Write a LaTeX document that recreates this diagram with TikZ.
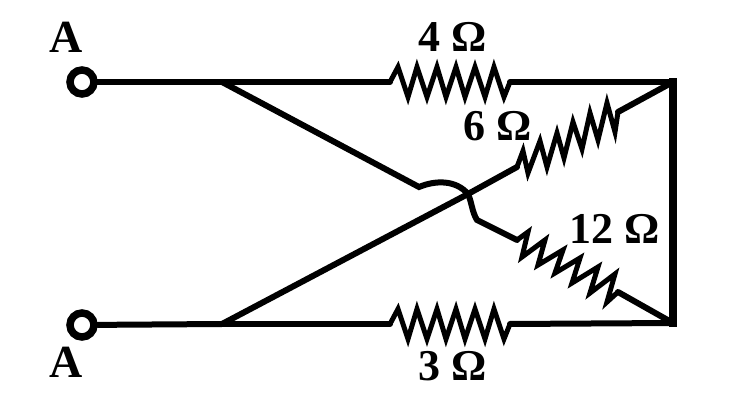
\documentclass[tikz,border=0pt]{standalone}
\usepackage{fontspec}
\setmainfont{Liberation Serif}
\tikzset{
  x=1pt,y=-1pt,
  wire/.style={draw=black,line width=6pt,line join=miter,line cap=round},
  res/.style={draw=black,line width=5pt,line join=miter,miter limit=10},
  rail/.style={draw=black,line width=7.5pt,line cap=rect},
  term/.style={circle,draw=black,fill=white,line width=7.5pt,minimum size=24pt,inner sep=0pt},
  lab/.style={font=\fontsize{46}{46}\selectfont\bfseries,text=black,inner sep=0pt},
  vlab/.style={font=\fontsize{44}{44}\selectfont,text=black,inner sep=0pt}
}
\begin{document}
\begin{tikzpicture}
\useasboundingbox (0,0) rectangle (750,419);
\coordinate (jt) at (222,82);
\coordinate (jb) at (222,324);
\coordinate (tr) at (673,82);
\coordinate (br) at (673,323);
\coordinate (x) at (468,194);
\coordinate (r1a) at (390,82);
\coordinate (r1b) at (510,82);
\coordinate (r2a) at (390,324);
\coordinate (r2b) at (510,324);
\coordinate (r3a) at (517,167);
\coordinate (r3b) at (618,112);
\coordinate (r4a) at (517,240);
\coordinate (r4b) at (618,292);
\coordinate (k) at (419,187);
\coordinate (k2) at (477,220);
% wires
\draw[wire] (jt) -- (r1a);
\draw[wire] (r1b) -- (tr);
\draw[wire] (jb) -- (r2a);
\draw[wire] (r2b) -- (br);
\draw[wire] (jb) -- (x) -- (r3a);
\draw[wire] (r3b) -- (tr);
\draw[wire] (jt) -- (k) .. controls (436,180) and (456,180) .. (x) .. controls (472,203) and (472,212) .. (k2) -- (r4a);
\draw[wire] (r4b) -- (br);
\draw[rail] (tr) -- (br);
% resistors
\draw[res] (r1a) -- (398,67) -- (408,97) -- (417,67) -- (427,97) -- (437,67) -- (446,97) -- (456,67) -- (465,97) -- (475,67) -- (485,97) -- (494,67) -- (504,97) -- (r1b);
\draw[res] (r2a) -- (398,309) -- (408,339) -- (417,309) -- (427,339) -- (437,309) -- (446,339) -- (456,309) -- (465,339) -- (475,309) -- (485,339) -- (494,309) -- (504,339) -- (r2b);
\draw[res] (r3a) -- (523,151) -- (528,173) -- (540,141) -- (547,167) -- (557,133) -- (564,158) -- (573,122) -- (582,149) -- (590,113) -- (598,140) -- (607,103) -- (615,132) -- (r3b);
\draw[res] (r4a) -- (528,232) -- (522,257) -- (545,240) -- (538,265) -- (563,250) -- (555,273) -- (580,258) -- (572,283) -- (598,267) -- (590,293) -- (615,274) -- (607,302) -- (r4b);
% terminals
\node[term] (ta) at (82,82) {};
\node[term] (tb) at (82,325) {};
\draw[wire] (ta) -- (jt);
\draw[wire] (tb) -- (jb);
% labels
\node[lab] (la) at (66,37) {A};
\node[lab] (lb) at (66,362) {A};
\node[vlab] (l4) at (453,37) {\textbf{4 Ω}};
\node[vlab] (l6) at (498,126) {\textbf{6 Ω}};
\node[vlab] (l12) at (615,229) {\textbf{12 Ω}};
\node[vlab] (l3) at (453,366) {\textbf{3 Ω}};
\end{tikzpicture}
\end{document}
